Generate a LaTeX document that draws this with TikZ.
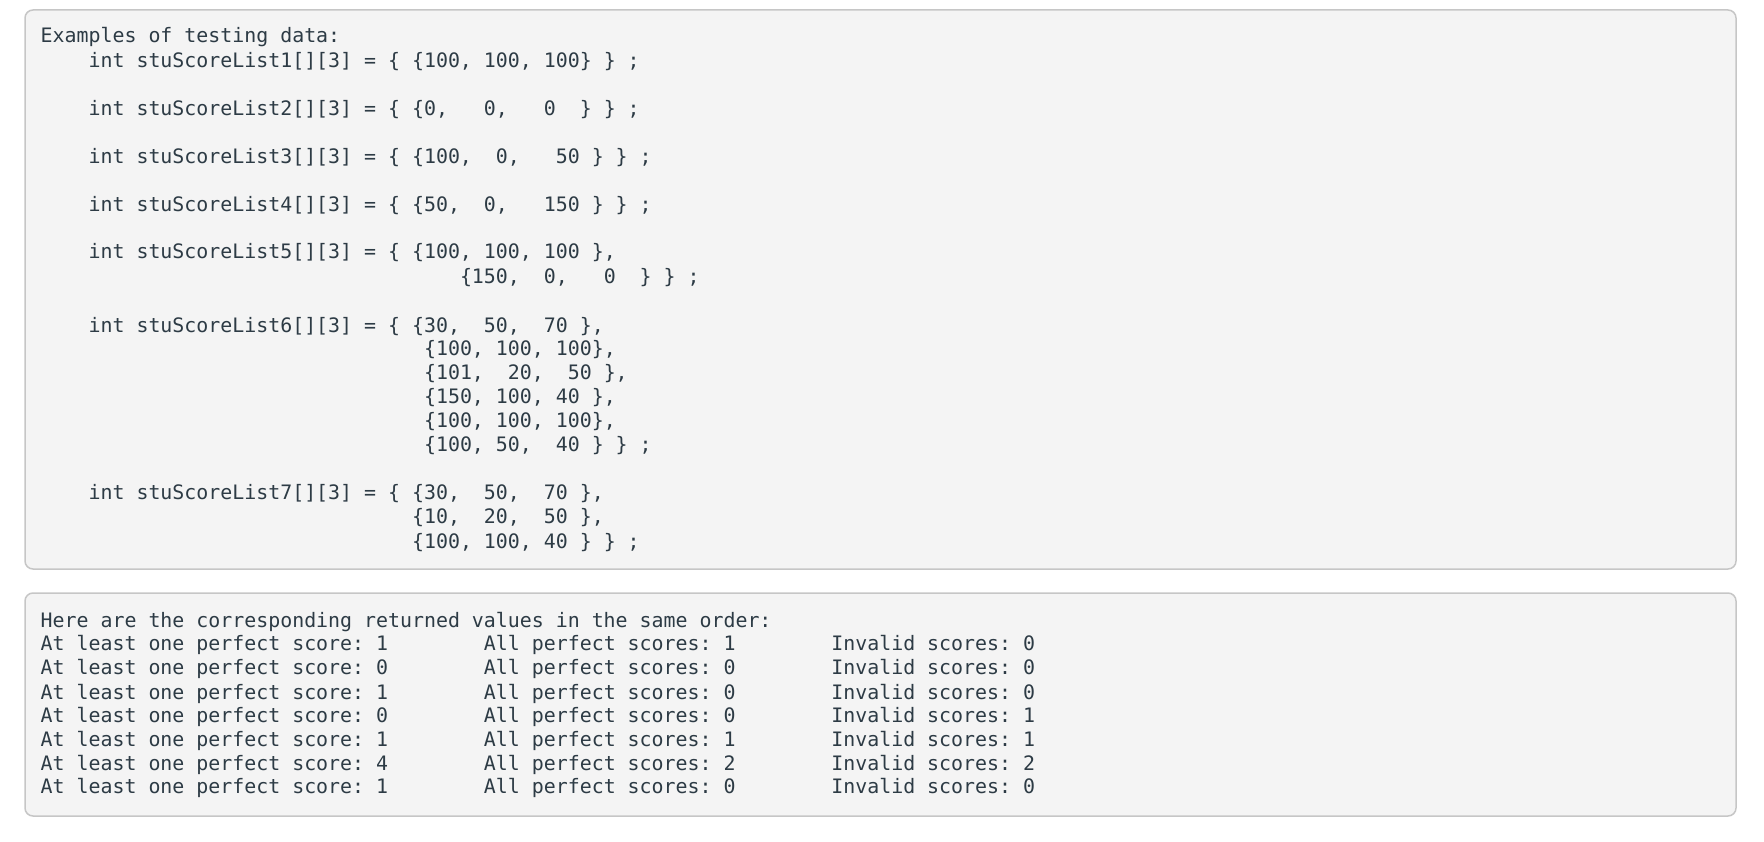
\documentclass[tikz,border=0pt]{standalone}
\usepackage{fontspec}
\setmonofont{DejaVu Sans Mono}
\definecolor{bg}{HTML}{F4F4F4}
\definecolor{bd}{HTML}{C6C6C6}
\definecolor{tx}{HTML}{2D3B45}
\begin{document}
\begin{tikzpicture}[x=1pt,y=-1pt,
  box/.style={draw=bd,fill=bg,line width=1.5pt,rounded corners=8pt},
  ln/.style={anchor=base west,inner sep=0,font=\ttfamily\fontsize{19.9}{24}\selectfont,text=tx}]
\useasboundingbox (0,0) rectangle (1764,842);
\draw[box] (25,10) rectangle (1736,569);
\draw[box] (25,593) rectangle (1736,816);
\def\cw{11.98}
\def\L#1#2#3#4{\node[ln] (#1) at ({40.5+#2*\cw},{#3+7}) {#4};}
\L{a0}{0}{36}{Examples of testing data:}
\L{a1}{4}{60.75}{int stuScoreList1[][3] = \{ \{100, 100, 100\} \} ;}
\L{a2}{4}{109}{int stuScoreList2[][3] = \{ \{0,~~~0,~~~0~~\} \} ;}
\L{a3}{4}{156.4}{int stuScoreList3[][3] = \{ \{100,~~0,~~~50 \} \} ;}
\L{a4}{4}{204.75}{int stuScoreList4[][3] = \{ \{50,~~0,~~~150 \} \} ;}
\L{a5}{4}{252}{int stuScoreList5[][3] = \{ \{100, 100, 100 \},}
\L{a5b}{35}{276.75}{\{150,~~0,~~~0~~\} \} ;}
\L{a6}{4}{325}{int stuScoreList6[][3] = \{ \{30,~~50,~~70 \},}
\L{a6b}{32}{348.75}{\{100, 100, 100\},}
\L{a6c}{32}{372.4}{\{101,~~20,~~50 \},}
\L{a6d}{32}{396}{\{150, 100, 40 \},}
\L{a6e}{32}{420.75}{\{100, 100, 100\},}
\L{a6f}{32}{444.4}{\{100, 50,~~40 \} \} ;}
\L{a7}{4}{492.75}{int stuScoreList7[][3] = \{ \{30,~~50,~~70 \},}
\L{a7b}{31}{516.4}{\{10,~~20,~~50 \},}
\L{a7c}{31}{541}{\{100, 100, 40 \} \} ;}
\L{b0}{0}{620}{Here are the corresponding returned values in the same order:}
\foreach \y/\p/\q/\r [count=\i] in {643.5/1/1/0,667/0/0/0,692/1/0/0,715.5/0/0/1,739/1/1/1,763/4/2/2,786.4/1/0/0}{
  \node[ln] (c\i) at (40.5,\y+7) {At least one perfect score: \p};
  \node[ln] (d\i) at ({40.5+37*\cw},\y+7) {All perfect scores: \q};
  \node[ln] (e\i) at ({40.5+66*\cw},\y+7) {Invalid scores: \r};
}
\end{tikzpicture}
\end{document}
